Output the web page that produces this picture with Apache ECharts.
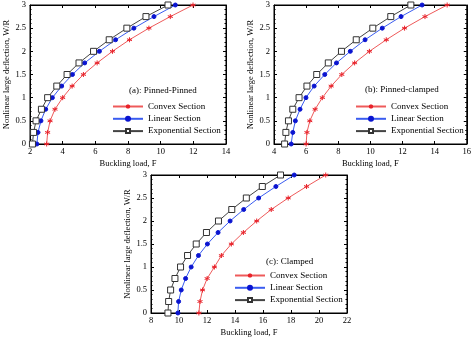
<!DOCTYPE html>
<html><head><meta charset="utf-8">
<script src="https://cdn.jsdelivr.net/npm/echarts@6/dist/echarts.min.js"></script>
<style>html,body{margin:0;padding:0;background:#fff}#c{width:474px;height:338px}</style>
</head><body><div id="c"></div>
<script>
var deflection = [0,0.25,0.5,0.75,1,1.25,1.5,1.75,2,2.25,2.5,2.75,3];
var seriesNames = ['Convex Section','Linear Section','Exponential Section'];
var panelTitles = ['(a): Pinned-Pinned','(b): Pinned-clamped','(c): Clamped'];
// (a) Pinned-Pinned
var aConvex = [3.02,3.08,3.23,3.53,4.0,4.58,5.27,6.11,7.05,8.09,9.28,10.59,11.98];
var aLinear = [2.42,2.49,2.67,2.96,3.37,3.94,4.6,5.35,6.25,7.24,8.36,9.59,10.9];
var aExpo   = [2.15,2.22,2.37,2.7,3.08,3.64,4.27,5.0,5.89,6.85,7.93,9.1,10.45];
// (b) Pinned-clamped
var bConvex = [6.0,6.05,6.23,6.56,7.01,7.56,8.22,9.02,9.94,10.99,12.13,13.4,14.78];
var bLinear = [5.07,5.17,5.33,5.62,5.99,6.5,7.16,7.89,8.75,9.67,10.74,11.91,13.22];
var bExpo   = [4.66,4.74,4.9,5.17,5.56,6.05,6.66,7.38,8.2,9.12,10.15,11.27,12.52];
// (c) Clamped
var cConvex = [11.42,11.5,11.68,12.01,12.53,13.03,13.74,14.6,15.55,16.59,17.8,19.11,20.48];
var cLinear = [9.92,9.97,10.16,10.47,10.87,11.39,12.03,12.79,13.65,14.62,15.69,16.92,18.23];
var cExpo   = [9.21,9.26,9.4,9.71,10.11,10.61,11.23,11.96,12.82,13.77,14.81,15.95,17.25];
var xRanges = [[2,14,2],[4,16,2],[8,22,2]];

var panels = [[aConvex,aLinear,aExpo],[bConvex,bLinear,bExpo],[cConvex,cLinear,cExpo]];
var grids = [
  {left:30, top:5, width:196, height:139},
  {left:274, top:5, width:195, height:139},
  {left:151, top:175, width:196, height:138}
];
var FONT = 'Liberation Serif';
var pairs = function(xs){ return xs.map(function(x,i){ return [x, deflection[i]]; }); };
var styles = [
  {symbol:'path://M5,0 L5,10 M0,3 L10,7 M0,7 L10,3', symbolSize:5, line:'#ee5a5a', mk:'#e8222a', fill:'#e8222a'},
  {symbol:'circle', symbolSize:4, line:'#3a5cf0', mk:'#0a14d0', fill:'#0a14d0'},
  {symbol:'rect', symbolSize:6, line:'#444444', mk:'#333333', fill:'#ffffff'}
];
var option = {animation:false, grid:[], xAxis:[], yAxis:[], series:[], legend:[], title:[]};
var legendPos = [
  {left:107, top:97},
  {left:350, top:97},
  {left:229, top:266}
];
var titlePos = [
  {left:124, top:81},
  {left:360, top:80},
  {left:261, top:252}
];
var tickStyle = {color:'#000'};
grids.forEach(function(g,p){
  option.grid.push(Object.assign({show:true, borderColor:'#000', borderWidth:1}, g));
  option.xAxis.push({
    type:'value', gridIndex:p, min:xRanges[p][0], max:xRanges[p][1], interval:xRanges[p][2],
    name:'Buckling load, F', nameLocation:'middle', nameGap:15,
    nameTextStyle:{fontFamily:FONT, fontSize:8.5, color:'#000'},
    axisLine:{onZero:false, lineStyle:tickStyle},
    axisTick:{inside:true, length:3, lineStyle:tickStyle},
    axisLabel:{fontFamily:FONT, fontSize:8.5, color:'#000', margin:3},
    splitLine:{show:false}
  });
  option.yAxis.push({
    type:'value', gridIndex:p, min:0, max:3, interval:0.5,
    name:'Nonlinear large deflection, W/R', nameLocation:'middle', nameGap:19,
    nameTextStyle:{fontFamily:FONT, fontSize:8.5, color:'#000'},
    axisLine:{onZero:false, lineStyle:tickStyle},
    axisTick:{inside:true, length:3, lineStyle:tickStyle},
    minorTick:{show:true, splitNumber:5, length:1.5, lineStyle:tickStyle},
    axisLabel:{fontFamily:FONT, fontSize:8.5, color:'#000', margin:4},
    splitLine:{show:false}
  });
  panels[p].forEach(function(arr,s){
    var st = styles[s];
    option.series.push({
      type:'line', name:seriesNames[s], xAxisIndex:p, yAxisIndex:p,
      data:pairs(arr), symbol:st.symbol, symbolSize:st.symbolSize, showSymbol:true,
      lineStyle:{color:st.line, width:1}, color:st.line,
      itemStyle:{color:st.fill, borderColor:st.mk, borderWidth:1},
      z: 3 + s
    });
  });
  option.legend.push(Object.assign({
    orient:'vertical', data:seriesNames, itemWidth:30, itemHeight:5, itemGap:3.3,
    selectedMode:false, textStyle:{fontFamily:FONT, fontSize:9, color:'#000'}
  }, legendPos[p]));
  option.title.push(Object.assign({
    text:panelTitles[p], textStyle:{fontFamily:FONT, fontSize:9, fontWeight:'normal', color:'#000'}
  }, titlePos[p]));
});
// mirrored box axes (top / right) carrying inside ticks, no labels
grids.forEach(function(g,p){
  option.xAxis.push({
    type:'value', gridIndex:p, position:'top', min:xRanges[p][0], max:xRanges[p][1], interval:xRanges[p][2],
    axisLine:{onZero:false, lineStyle:tickStyle}, axisTick:{inside:true, length:3, lineStyle:tickStyle},
    axisLabel:{show:false}, splitLine:{show:false}
  });
  option.yAxis.push({
    type:'value', gridIndex:p, position:'right', min:0, max:3, interval:0.5,
    axisLine:{onZero:false, lineStyle:tickStyle}, axisTick:{inside:true, length:3, lineStyle:tickStyle},
    minorTick:{show:true, splitNumber:5, length:1.5, lineStyle:tickStyle},
    axisLabel:{show:false}, splitLine:{show:false}
  });
});
var chart = echarts.init(document.getElementById('c'), null, {renderer:'canvas'});
chart.setOption(option);
</script></body></html>
